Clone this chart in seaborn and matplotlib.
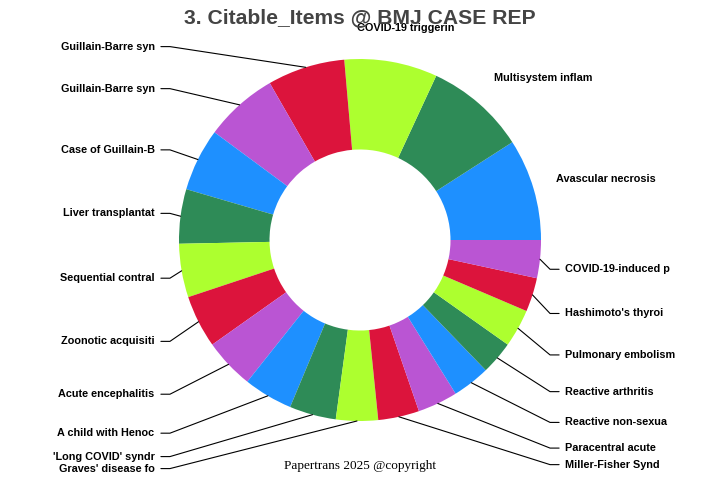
import numpy as np
import matplotlib
matplotlib.use("Agg")
import matplotlib.pyplot as plt
import seaborn as sns

# Data (slice sizes, counter-clockwise from 3 o'clock)
labels = [
    "Avascular necrosis", "Multisystem inflam", "COVID-19 triggerin",
    "Guillain-Barre syn", "Guillain-Barre syn", "Case of Guillain-B",
    "Liver transplantat", "Sequential contral", "Zoonotic acquisiti",
    "Acute encephalitis", "A child with Henoc", "'Long COVID' syndr",
    "Graves' disease fo", "Miller-Fisher Synd", "Paracentral acute",
    "Reactive non-sexua", "Reactive arthritis", "Pulmonary embolism",
    "Hashimoto's thyroi", "COVID-19-induced p",
]
values = [32.7, 32.4, 29.9, 24.9, 23.6, 20.2, 17.5, 17.2, 16.9, 16.2,
          15.8, 15.0, 13.5, 13.2, 12.9, 12.1, 10.7, 12.2, 10.9, 12.2]
base_colors = ["dodgerblue", "seagreen", "greenyellow", "crimson", "mediumorchid"]

sns.set_theme(style="white")
plt.rcParams["font.family"] = ["Liberation Sans", "DejaVu Sans"]

pal = sns.color_palette(base_colors)
colors = [pal[i % len(pal)] for i in range(len(values))]

fig = plt.figure(figsize=(7.2, 4.8), dpi=100)
R = 181  # pie radius in pixels
ax = fig.add_axes([0, 0, 1, 1])

wedges, _ = ax.pie(values, colors=colors, startangle=0, counterclock=True,
                   radius=1, wedgeprops=dict(width=0.5, linewidth=0))

ax.set_xlim(-360 / R, 360 / R)
ax.set_ylim(-240 / R, 240 / R)
ax.set_aspect("equal")
ax.axis("off")

FS = 7.8
gap = 12 / R  # minimum vertical spacing between labels
placed = {1: [], -1: []}

for w, lab in zip(wedges, labels):
    mid = np.deg2rad((w.theta1 + w.theta2) / 2)
    cx, cy = np.cos(mid), np.sin(mid)
    if cx > 0 and cy > 0:
        # upper-right labels sit free, no leader line
        if cx > 0.3:
            ax.text(1.13 * cx, 1.19 * cy, lab, ha="left", va="center",
                    fontsize=FS, fontweight="bold", color="black")
        else:
            ax.text(1.45 * cx, 1.19 * cy, lab, ha="center", va="center",
                    fontsize=FS, fontweight="bold", color="black")
        continue
    side = 1 if cx > 0 else -1
    if cy > 0:
        ly = 1.12 * cy
    else:
        ly = 1.24 * cy - (0.03 if side > 0 else 0)
    placed[side].append([cx, cy, ly, lab])

for side, items in placed.items():
    # push labels apart, working downwards
    items.sort(key=lambda t: -t[2])
    for i in range(1, len(items)):
        if items[i - 1][2] - items[i][2] < gap:
            items[i][2] = items[i - 1][2] - gap
    for cx, cy, ly, lab in items:
        ax.plot([cx, side * 1.05, side * 1.10], [cy, ly, ly],
                color="black", linewidth=0.8)
        ax.text(side * 1.135, ly, lab, ha="left" if side > 0 else "right",
                va="center", fontsize=FS, fontweight="bold", color="black")

fig.text(0.5, 1 - 18 / 480, "3. Citable_Items @ BMJ CASE REP", ha="center",
         va="center", fontsize=15.2, fontweight="bold", color="#444444")
fig.text(0.5, 1 - 466 / 480, "Papertrans 2025 @copyright", ha="center",
         va="center", fontsize=9.5, family="Liberation Serif", color="black")

fig.savefig("out.png", dpi=100)
